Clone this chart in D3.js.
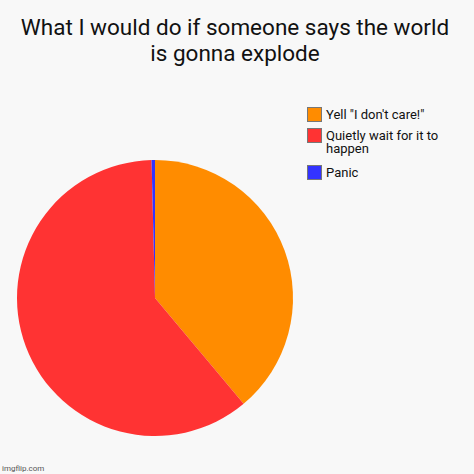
<!DOCTYPE html>
<html>
<head>
<meta charset="utf-8">
<script src="https://cdn.jsdelivr.net/npm/d3@7"></script>
<style>
  body { margin: 0; background: #f8f8f8; }
  svg { display: block; font-family: Roboto, "Noto Sans", sans-serif; }
</style>
</head>
<body>
<div id="chart"></div>
<script>
// chart data
const categories = ["Yell \"I don't care!\"", "Quietly wait for it to happen", "Panic"];
const values = [38.9, 60.7, 0.4];
const colors = ["#ff8c00", "#ff3333", "#3333ff"];
const legendLines = [["Yell \"I don't care!\""], ["Quietly wait for it to", "happen"], ["Panic"]];
const titleLines = ["What I would do if someone says the world", "is gonna explode"];

const w = 474, h = 474;
const cx = 155, cy = 298, r = 138;

const svg = d3.select("#chart").append("svg")
  .attr("width", w)
  .attr("height", h);

svg.append("rect")
  .attr("width", w).attr("height", h)
  .attr("fill", "#f8f8f8");

// title
svg.append("g").selectAll("text")
  .data(titleLines)
  .enter()
  .append("text")
  .attr("x", 235)
  .attr("y", (d, i) => 35 + i * 26)
  .attr("text-anchor", "middle")
  .attr("font-size", 22.5)
  .attr("fill", "#111")
  .text(d => d);

// pie
const pie = d3.pie().sort(null).value(d => d);
const arc = d3.arc().innerRadius(0).outerRadius(r);

svg.append("g")
  .attr("transform", `translate(${cx},${cy})`)
  .selectAll("path")
  .data(pie(values))
  .enter()
  .append("path")
  .attr("d", arc)
  .attr("fill", (d, i) => colors[i]);

// legend
const rowY = [107, 128, 165]; // top of each swatch
const legend = svg.append("g");

const items = legend.selectAll("g")
  .data(categories)
  .enter()
  .append("g")
  .attr("transform", (d, i) => `translate(307,${rowY[i]})`);

items.append("rect")
  .attr("x", 0.5).attr("y", 0.5)
  .attr("width", 14).attr("height", 14)
  .attr("fill", (d, i) => colors[i])
  .attr("stroke", "#777")
  .attr("stroke-width", 1);

items.append("text")
  .attr("x", 19)
  .attr("y", 12)
  .attr("font-size", 13)
  .attr("fill", "#111")
  .selectAll("tspan")
  .data((d, i) => legendLines[i])
  .enter()
  .append("tspan")
  .attr("x", 19)
  .attr("dy", (d, j) => j === 0 ? 0 : 13)
  .text(d => d);

// watermark
svg.append("text")
  .attr("x", 2)
  .attr("y", 471)
  .attr("font-size", 8)
  .attr("fill", "#555")
  .text("imgflip.com");
</script>
</body>
</html>
